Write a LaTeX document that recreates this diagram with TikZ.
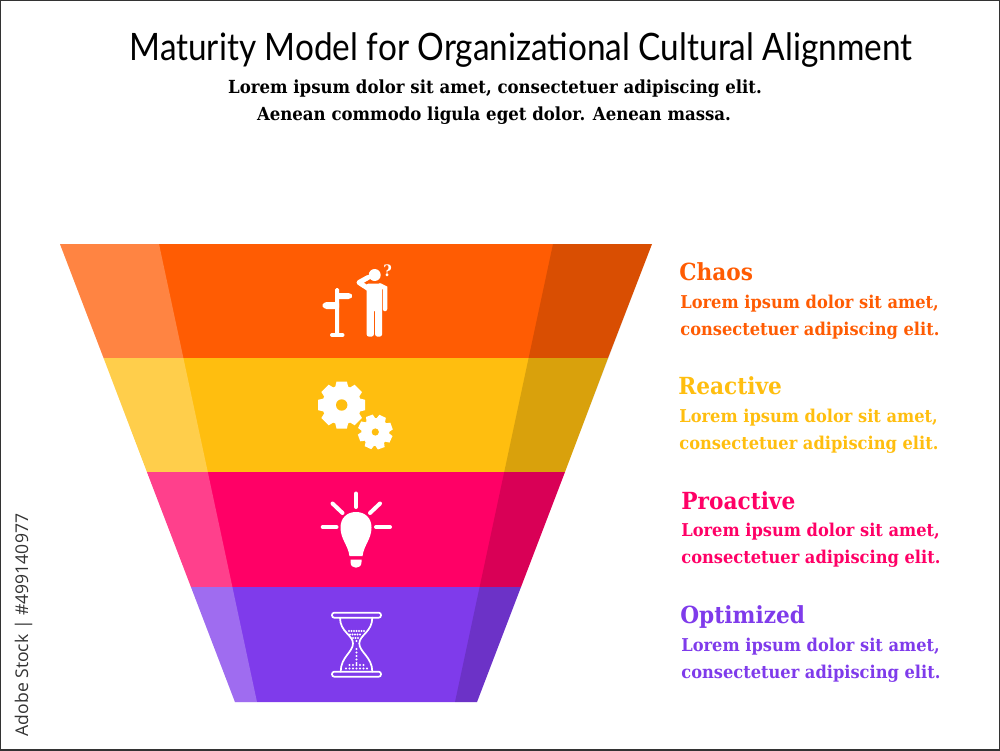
\documentclass[tikz,border=0pt]{standalone}
\usepackage{fontspec}
\setmainfont[FakeStretch=.92]{DejaVu Serif}
\newfontfamily\titlefont[FakeStretch=.883]{Lato}
\newfontfamily\stockfont{Open Sans}

\begin{document}
\begin{tikzpicture}
			[x=.2mm,y=-.2mm,line cap=round,
			%Styles
			light facet/.style={fill=white,fill opacity=.25},
			dark facet/.style={fill=black,fill opacity=.15},
			head text/.style={anchor=base west,inner sep=0pt,font=\fontsize{13.4}{16}\selectfont\bfseries},
			body text/.style={anchor=base west,inner sep=0pt,font=\fontsize{10.05}{12}\selectfont\bfseries},
			sub text/.style={anchor=base,inner sep=0pt,font=\fontsize{10.25}{12}\selectfont\bfseries},
			icon line/.style={white,line width=.8mm},
			glass line/.style={white,line width=.34mm}
			]

			%Colors
			\definecolor{chaoscolor}{HTML}{FF5C03}
			\definecolor{reactivecolor}{HTML}{FFBE0F}
			\definecolor{proactivecolor}{HTML}{FF0066}
			\definecolor{optimizedcolor}{HTML}{7F3BEB}

			\useasboundingbox (0,0) rectangle (1000,750);
			\draw[black!80,line width=.3mm] (0,0) rectangle (1000,750);

			%Heading
			\node[anchor=base,inner sep=0pt,font=\titlefont\fontsize{21.5}{24}\selectfont] (title) at (521,60) {Maturity Model for Organizational Cultural Alignment};
			\node[sub text] (sub one) at (495,93) {Lorem ipsum dolor sit amet, consectetuer adipiscing elit.};
			\node[sub text] (sub two) at (494,120) {Aenean commodo ligula eget dolor. Aenean massa.};

			%The funnel
			\fill[chaoscolor] (60,244) -- (652,244) -- (608,358) -- (103.6,358) -- cycle;
			\fill[reactivecolor] (103.6,358) -- (608,358) -- (565,472) -- (147,472) -- cycle;
			\fill[proactivecolor] (147,472) -- (565,472) -- (521,587) -- (191,587) -- cycle;
			\fill[optimizedcolor] (191,587) -- (521,587) -- (477,702) -- (235,702) -- cycle;

			\fill[light facet] (60,244) -- (159,244) -- (257,702) -- (235,702) -- cycle;
			\fill[dark facet] (652,244) -- (553,244) -- (455,702) -- (477,702) -- cycle;

			%Signpost and man
			\fill[white,rounded corners=.3mm] (335,288) rectangle (339,335);
			\draw[icon line] (332,335) -- (342.5,335);
			\fill[white,rounded corners=.3mm] (335,293) -- (350,293) -- (353,296) -- (350,299) -- (335,299) -- cycle;
			\fill[white,rounded corners=.3mm] (339,302) -- (325,302) -- (321.5,305.5) -- (325,309) -- (339,309) -- cycle;
			\fill[white] (374.7,275) circle (6);
			\fill[white,rounded corners=.4mm] (366.7,283.5) -- (382,283.5) -- (382,336.5) -- (375.2,336.5) -- (375.2,310) -- (373.8,310) -- (373.8,336.5) -- (366.7,336.5) -- cycle;
			\draw[icon line,line width=.9mm] (380,285.5) -- (385,288) -- (385,309);
			\draw[icon line,line width=1mm,line join=round] (369,289) -- (359,282.5) -- (368,277.5);
			\node[white,inner sep=0pt,font=\fontsize{9}{10}\selectfont\bfseries] (question) at (387.7,270.5) {?};

			%Gears
			\begin{scope}[shift={(341.7,405)}]
				\fill[white] (0,0) circle (19.5);
				\foreach \a in {0,45,...,315}
					\fill[white,rotate=\a] (18,-6.5) -- (23.5,-5.2) -- (23.5,5.2) -- (18,6.5) -- cycle;
				\fill[reactivecolor] (0,0) circle (5.7);
			\end{scope}
			\begin{scope}[shift={(375.3,432)}]
				\fill[white] (0,0) circle (14);
				\foreach \a in {20,65,...,335}
					\fill[white,rotate=\a] (13,-4.6) -- (17.3,-3.6) -- (17.3,3.6) -- (13,4.6) -- cycle;
				\fill[reactivecolor] (0,0) circle (3.6);
			\end{scope}

			%Bulb
			\draw[icon line] (356,493.5) -- (356,507);
			\draw[icon line] (332.5,503.5) -- (342.5,513);
			\draw[icon line] (380,503.5) -- (370,513);
			\draw[icon line] (322.7,527) -- (336.5,527);
			\draw[icon line] (376,527) -- (390,527);
			\fill[white] (349.5,556) .. controls (348,545) and (340.5,539) .. (340.5,527.5) .. controls (340.5,518) and (347,512) .. (356,512) .. controls (365,512) and (371.5,518) .. (371.5,527.5) .. controls (371.5,539) and (364,545) .. (362.5,556) -- cycle;
			\fill[white] (350.5,559.5) -- (361.5,559.5) -- (361.5,562) .. controls (361.5,566) and (359,567.7) .. (356,567.7) .. controls (353,567.7) and (350.5,566) .. (350.5,562) -- cycle;

			%Hourglass
			\draw[glass line,rounded corners=.45mm] (332,612.7) rectangle (381,617.7);
			\draw[glass line,rounded corners=.45mm] (332,671.7) rectangle (381,676.7);
			\draw[glass line] (340,617.7) .. controls (340,632) and (353,635) .. (353,643.5) .. controls (353,652) and (340.7,657) .. (340.7,671.7);
			\draw[glass line] (372.3,617.7) .. controls (372.3,632) and (359.3,635) .. (359.3,643.5) .. controls (359.3,652) and (372.3,657) .. (372.3,671.7);
			\foreach \row/\from/\nxt/\to in {631/349/351.5/364,634.5/350/352.5/362,638/353/355.5/360}
				\foreach \px in {\from,\nxt,...,\to}
					\fill[white] (\px,\row) circle (1.05);
			\fill[white] (356.5,641) circle (1.05);
			\foreach \py in {649,652.5,...,663}
				\fill[white] (356.5,\py) circle (1.05);
			\foreach \px in {346,349.5,...,367}
				\fill[white] (\px,668.5) circle (1.05);
			\foreach \px in {349.5,353,...,364}
				\fill[white] (\px,665) circle (1.05);

			%Labels
			\node[head text,text=chaoscolor] (chaos) at (679,280) {Chaos};
			\node[body text,text=chaoscolor] (chaos one) at (680,308) {Lorem ipsum dolor sit amet,};
			\node[body text,text=chaoscolor] (chaos two) at (680,335) {consectetuer adipiscing elit.};
			\node[head text,text=reactivecolor] (reactive) at (678,394) {Reactive};
			\node[body text,text=reactivecolor] (reactive one) at (679,422) {Lorem ipsum dolor sit amet,};
			\node[body text,text=reactivecolor] (reactive two) at (679,449) {consectetuer adipiscing elit.};
			\node[head text,text=proactivecolor] (proactive) at (681,509) {Proactive};
			\node[body text,text=proactivecolor] (proactive one) at (681,536) {Lorem ipsum dolor sit amet,};
			\node[body text,text=proactivecolor] (proactive two) at (681,563) {consectetuer adipiscing elit.};
			\node[head text,text=optimizedcolor] (optimized) at (680,623) {Optimized};
			\node[body text,text=optimizedcolor] (optimized one) at (681,651) {Lorem ipsum dolor sit amet,};
			\node[body text,text=optimizedcolor] (optimized two) at (681,678) {consectetuer adipiscing elit.};

			%Stock mark
			\node[rotate=90,anchor=base,inner sep=0pt,text=black!80,font=\stockfont\fontsize{10}{12}\selectfont] (stock) at (28,625) {Adobe Stock | \#499140977};
		\end{tikzpicture}
\end{document}
